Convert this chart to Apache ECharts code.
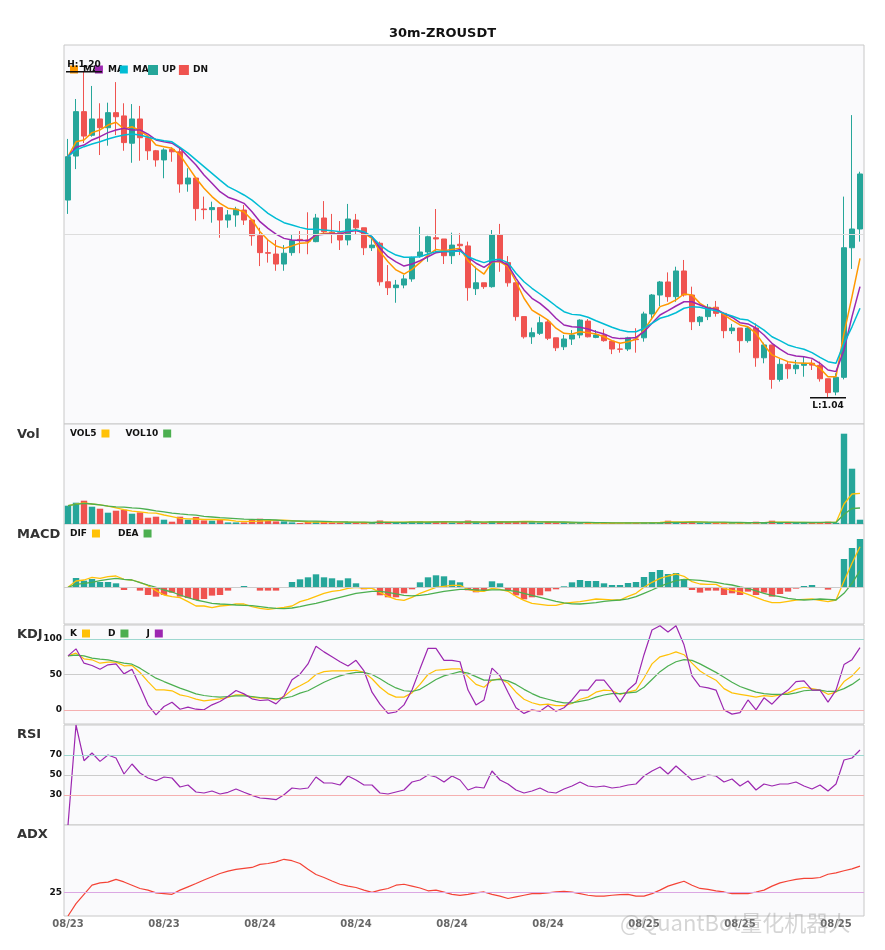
<!DOCTYPE html>
<html>
<head>
<meta charset="utf-8">
<title>30m-ZROUSDT</title>
<script src="https://cdn.jsdelivr.net/npm/echarts@6/dist/echarts.min.js"></script>
<style>
  html, body { margin: 0; padding: 0; background: #fff; }
  #main { width: 885px; height: 950px; }
</style>
</head>
<body>
<div id="main"></div>
<script>
// 30分钟K线，100根，从 08/23 12:00 开始
function pad(n) { return (n < 10 ? '0' : '') + n; }
var times = [];
var t0 = new Date(2024, 7, 23, 12, 0);
for (var n = 0; n < 100; n++) {
    var d = new Date(t0.getTime() + n * 30 * 60000);
    times.push(pad(d.getMonth() + 1) + '/' + pad(d.getDate()) + ' ' + pad(d.getHours()) + ':' + pad(d.getMinutes()));
}

// K线数据
var open = [
    1.1370, 1.1586, 1.1804, 1.1688, 1.1768, 1.1725, 1.1799, 1.1783, 1.1649, 1.1768,
    1.1676, 1.1612, 1.1567, 1.1619, 1.1607, 1.1449, 1.1478, 1.1326, 1.1323, 1.1333,
    1.1272, 1.1297, 1.1321, 1.1272, 1.1195, 1.1112, 1.1105, 1.1056, 1.1112, 1.1177,
    1.1174, 1.1166, 1.1282, 1.1213, 1.1210, 1.1174, 1.1272, 1.1234, 1.1136, 1.1158,
    1.0969, 1.0940, 1.0953, 1.0983, 1.1095, 1.1115, 1.1185, 1.1179, 1.1097, 1.1153,
    1.1145, 1.0935, 1.0964, 1.0945, 1.1199, 1.1063, 1.0964, 1.0798, 1.0699, 1.0716,
    1.0772, 1.0694, 1.0650, 1.0688, 1.0708, 1.0776, 1.0696, 1.0708, 1.0678, 1.0639,
    1.0639, 1.0688, 1.0694, 1.0811, 1.0904, 1.0968, 1.0896, 1.1022, 1.0904, 1.0773,
    1.0798, 1.0844, 1.0814, 1.0729, 1.0742, 1.0680, 1.0742, 1.0596, 1.0659, 1.0490,
    1.0564, 1.0542, 1.0559, 1.0569, 1.0559, 1.0493, 1.0428, 1.0500, 1.1136, 1.1228
];
var close = [
    1.1583, 1.1804, 1.1684, 1.1768, 1.1725, 1.1799, 1.1779, 1.1652, 1.1768, 1.1676,
    1.1612, 1.1567, 1.1616, 1.1607, 1.1449, 1.1478, 1.1328, 1.1323, 1.1333, 1.1272,
    1.1297, 1.1325, 1.1272, 1.1195, 1.1112, 1.1109, 1.1056, 1.1109, 1.1171, 1.1174,
    1.1168, 1.1282, 1.1215, 1.1208, 1.1174, 1.1277, 1.1234, 1.1136, 1.1149, 1.0969,
    1.0940, 1.0953, 1.0983, 1.1089, 1.1115, 1.1190, 1.1179, 1.1097, 1.1149, 1.1146,
    1.0940, 1.0964, 1.0945, 1.1199, 1.1067, 1.0964, 1.0798, 1.0699, 1.0719, 1.0768,
    1.0692, 1.0645, 1.0688, 1.0708, 1.0781, 1.0699, 1.0708, 1.0680, 1.0639, 1.0638,
    1.0694, 1.0685, 1.0811, 1.0904, 1.0968, 1.0896, 1.1022, 1.0904, 1.0773, 1.0796,
    1.0844, 1.0814, 1.0729, 1.0742, 1.0680, 1.0742, 1.0596, 1.0659, 1.0490, 1.0564,
    1.0542, 1.0560, 1.0569, 1.0560, 1.0493, 1.0425, 1.0500, 1.1136, 1.1228, 1.1498
];
var low = [
    1.1302, 1.1522, 1.1650, 1.1681, 1.1591, 1.1637, 1.1689, 1.1612, 1.1553, 1.1563,
    1.1567, 1.1534, 1.1477, 1.1558, 1.1406, 1.1411, 1.1269, 1.1276, 1.1259, 1.1185,
    1.1234, 1.1239, 1.1248, 1.1146, 1.1046, 1.1063, 1.1023, 1.1023, 1.1097, 1.1109,
    1.1104, 1.1163, 1.1203, 1.1158, 1.1125, 1.1148, 1.1199, 1.1100, 1.1120, 1.0950,
    1.0904, 1.0866, 1.0937, 1.0969, 1.1087, 1.1067, 1.1109, 1.1056, 1.1056, 1.1100,
    1.0876, 1.0904, 1.0934, 1.0940, 1.1018, 1.0945, 1.0778, 1.0690, 1.0664, 1.0708,
    1.0683, 1.0629, 1.0634, 1.0659, 1.0692, 1.0696, 1.0692, 1.0675, 1.0614, 1.0621,
    1.0629, 1.0621, 1.0675, 1.0781, 1.0850, 1.0871, 1.0871, 1.0896, 1.0732, 1.0752,
    1.0781, 1.0798, 1.0692, 1.0713, 1.0621, 1.0670, 1.0552, 1.0569, 1.0444, 1.0479,
    1.0493, 1.0516, 1.0503, 1.0536, 1.0479, 1.0400, 1.0412, 1.0490, 1.1032, 1.1166
];
var high = [
    1.1670, 1.1866, 1.2000, 1.1930, 1.1845, 1.1848, 1.1949, 1.1845, 1.1841, 1.1832,
    1.1689, 1.1616, 1.1624, 1.1629, 1.1629, 1.1526, 1.1482, 1.1387, 1.1362, 1.1333,
    1.1321, 1.1337, 1.1346, 1.1272, 1.1234, 1.1174, 1.1174, 1.1149, 1.1199, 1.1218,
    1.1310, 1.1302, 1.1365, 1.1302, 1.1267, 1.1351, 1.1302, 1.1234, 1.1190, 1.1166,
    1.1051, 1.0978, 1.1002, 1.1092, 1.1239, 1.1195, 1.1326, 1.1179, 1.1210, 1.1207,
    1.1166, 1.1043, 1.0964, 1.1223, 1.1253, 1.1095, 1.0964, 1.0798, 1.0744, 1.0798,
    1.0781, 1.0694, 1.0708, 1.0732, 1.0785, 1.0786, 1.0732, 1.0736, 1.0678, 1.0670,
    1.0699, 1.0741, 1.0822, 1.0909, 1.0973, 1.1015, 1.1043, 1.1076, 1.0945, 1.0801,
    1.0860, 1.0875, 1.0814, 1.0762, 1.0742, 1.0752, 1.0765, 1.0670, 1.0659, 1.0590,
    1.0577, 1.0585, 1.0601, 1.0588, 1.0577, 1.0493, 1.0520, 1.1387, 1.1787, 1.1509
];

// 均线
var ma5 = [
    1.1583, 1.1656, 1.1665, 1.1701, 1.1714, 1.1738, 1.1752, 1.1719, 1.1730, 1.1710,
    1.1684, 1.1640, 1.1632, 1.1624, 1.1591, 1.1534, 1.1477, 1.1428, 1.1387, 1.1354,
    1.1330, 1.1325, 1.1313, 1.1272, 1.1215, 1.1174, 1.1145, 1.1133, 1.1145, 1.1158,
    1.1161, 1.1199, 1.1207, 1.1207, 1.1202, 1.1215, 1.1223, 1.1207, 1.1182, 1.1117,
    1.1067, 1.1027, 1.1007, 1.1030, 1.1063, 1.1100, 1.1128, 1.1121, 1.1128, 1.1133,
    1.1072, 1.1035, 1.1007, 1.1067, 1.1067, 1.1043, 1.0969, 1.0888, 1.0830, 1.0806,
    1.0781, 1.0741, 1.0716, 1.0713, 1.0724, 1.0719, 1.0713, 1.0699, 1.0680, 1.0667,
    1.0675, 1.0687, 1.0732, 1.0790, 1.0847, 1.0860, 1.0880, 1.0909, 1.0904, 1.0863,
    1.0839, 1.0839, 1.0806, 1.0781, 1.0757, 1.0748, 1.0716, 1.0659, 1.0610, 1.0593,
    1.0577, 1.0572, 1.0569, 1.0569, 1.0544, 1.0503, 1.0503, 1.0716, 1.0896, 1.1084
];
var ma10 = [
    1.1583, 1.1629, 1.1640, 1.1665, 1.1681, 1.1701, 1.1714, 1.1722, 1.1714, 1.1714,
    1.1694, 1.1665, 1.1656, 1.1649, 1.1624, 1.1583, 1.1542, 1.1493, 1.1452, 1.1411,
    1.1384, 1.1370, 1.1354, 1.1313, 1.1264, 1.1231, 1.1203, 1.1182, 1.1174, 1.1171,
    1.1171, 1.1199, 1.1202, 1.1203, 1.1203, 1.1215, 1.1220, 1.1210, 1.1190, 1.1133,
    1.1092, 1.1067, 1.1046, 1.1056, 1.1072, 1.1092, 1.1112, 1.1117, 1.1117, 1.1128,
    1.1089, 1.1060, 1.1040, 1.1067, 1.1072, 1.1051, 1.0986, 1.0929, 1.0888, 1.0863,
    1.0830, 1.0790, 1.0757, 1.0748, 1.0746, 1.0737, 1.0724, 1.0713, 1.0696, 1.0690,
    1.0692, 1.0696, 1.0724, 1.0765, 1.0806, 1.0827, 1.0850, 1.0871, 1.0871, 1.0855,
    1.0839, 1.0834, 1.0814, 1.0795, 1.0768, 1.0762, 1.0741, 1.0708, 1.0667, 1.0638,
    1.0614, 1.0605, 1.0601, 1.0593, 1.0569, 1.0536, 1.0528, 1.0634, 1.0798, 1.0945
];
var ma20 = [
    1.1583, 1.1616, 1.1632, 1.1645, 1.1656, 1.1670, 1.1681, 1.1689, 1.1694, 1.1689,
    1.1678, 1.1668, 1.1661, 1.1656, 1.1629, 1.1600, 1.1567, 1.1534, 1.1501, 1.1468,
    1.1436, 1.1416, 1.1395, 1.1370, 1.1337, 1.1305, 1.1280, 1.1259, 1.1248, 1.1236,
    1.1227, 1.1227, 1.1223, 1.1220, 1.1215, 1.1220, 1.1223, 1.1215, 1.1190, 1.1149,
    1.1121, 1.1100, 1.1089, 1.1089, 1.1092, 1.1105, 1.1117, 1.1117, 1.1117, 1.1120,
    1.1092, 1.1076, 1.1063, 1.1076, 1.1079, 1.1063, 1.1011, 1.0969, 1.0937, 1.0909,
    1.0880, 1.0850, 1.0822, 1.0809, 1.0806, 1.0795, 1.0778, 1.0762, 1.0746, 1.0732,
    1.0724, 1.0724, 1.0741, 1.0765, 1.0790, 1.0801, 1.0817, 1.0839, 1.0847, 1.0844,
    1.0834, 1.0827, 1.0814, 1.0801, 1.0786, 1.0781, 1.0757, 1.0732, 1.0699, 1.0680,
    1.0659, 1.0647, 1.0638, 1.0621, 1.0598, 1.0577, 1.0569, 1.0667, 1.0748, 1.0839
];

// 成交量
var vol = [
    183, 213, 233, 173, 153, 113, 133, 143, 103, 116,
    63, 73, 43, 23, 73, 43, 70, 36, 33, 43,
    16, 16, 16, 43, 53, 46, 26, 26, 16, 10,
    20, 25, 22, 15, 14, 18, 12, 15, 12, 35,
    22, 15, 12, 25, 28, 20, 18, 22, 15, 12,
    35, 18, 10, 30, 25, 18, 30, 22, 18, 15,
    20, 15, 12, 10, 12, 10, 8, 10, 12, 8,
    14, 10, 15, 18, 20, 33, 20, 18, 22, 10,
    10, 12, 15, 10, 12, 10, 23, 12, 33, 15,
    10, 10, 12, 20, 15, 23, 12, 903, 553, 43
];
var vol5 = [
    183, 198, 210, 200, 191, 178, 161, 143, 129, 122,
    112, 108, 90, 73, 56, 51, 50, 45, 45, 45,
    40, 29, 25, 27, 29, 35, 37, 39, 34, 26,
    20, 19, 19, 18, 19, 19, 16, 15, 14, 18,
    19, 19, 19, 22, 20, 20, 21, 23, 21, 17,
    20, 20, 18, 21, 24, 20, 23, 25, 25, 21,
    21, 18, 16, 14, 14, 12, 10, 10, 10, 10,
    10, 11, 12, 13, 15, 20, 21, 22, 23, 21,
    16, 14, 14, 12, 12, 12, 14, 13, 18, 19,
    19, 16, 16, 13, 13, 16, 16, 200, 300, 307
];
var vol10 = [
    183, 196, 206, 200, 191, 178, 172, 168, 161, 156,
    145, 131, 122, 109, 101, 94, 88, 77, 70, 63,
    58, 53, 48, 46, 44, 44, 40, 33, 30, 30,
    28, 28, 27, 24, 22, 20, 19, 18, 17, 18,
    17, 17, 17, 19, 19, 19, 20, 21, 21, 20,
    21, 20, 19, 20, 20, 20, 22, 22, 21, 21,
    20, 20, 20, 19, 17, 16, 14, 13, 12, 11,
    11, 11, 11, 12, 12, 15, 16, 17, 18, 18,
    18, 18, 18, 17, 15, 13, 14, 13, 16, 16,
    16, 15, 15, 15, 16, 17, 15, 98, 155, 160
];

// MACD
var dif = [
    0, 0.00101, 0.00117, 0.0016, 0.00144, 0.00171, 0.00181, 0.00128, 0.00117, 0.0008,
    0.00027, -0.00053, -0.00123, -0.00149, -0.00165, -0.00229, -0.00299, -0.00299, -0.00325, -0.00299,
    -0.00288, -0.00267, -0.00267, -0.00309, -0.00336, -0.00352, -0.00336, -0.0032, -0.00299, -0.00229,
    -0.00192, -0.00144, -0.00096, -0.00064, -0.00048, -0.00016, 0, -0.00016, -0.00016, -0.0008,
    -0.00144, -0.00192, -0.00208, -0.0016, -0.00096, -0.00048, 0, 0.00016, 0.00032, 0.00032,
    -0.00032, -0.00064, -0.00064, -0.00016, -0.00032, -0.00064, -0.00144, -0.00208, -0.00256, -0.00272,
    -0.00288, -0.00288, -0.00256, -0.0024, -0.00229, -0.00208, -0.00187, -0.00192, -0.00203, -0.00203,
    -0.00144, -0.00096, 0, 0.0008, 0.00144, 0.00181, 0.00213, 0.00176, 0.00091, 0.00053,
    0.00048, 0.00048, -0.00016, -0.00048, -0.00069, -0.00112, -0.0016, -0.00208, -0.00245, -0.00245,
    -0.00224, -0.00203, -0.00192, -0.00187, -0.00208, -0.00229, -0.00203, 0.00101, 0.00384, 0.0065
];
var dea = [
    0, 0.00048, 0.00064, 0.0008, 0.00107, 0.00128, 0.00144, 0.00128, 0.00117, 0.00075,
    0.00037, 0, -0.00043, -0.00075, -0.00123, -0.00165, -0.00203, -0.00229, -0.00256, -0.00267,
    -0.00272, -0.00283, -0.00288, -0.00293, -0.00309, -0.00325, -0.00336, -0.00341, -0.00331, -0.00309,
    -0.0028, -0.00256, -0.00224, -0.00192, -0.0016, -0.00128, -0.00096, -0.0008, -0.00064, -0.00064,
    -0.0008, -0.00104, -0.00128, -0.00136, -0.00128, -0.00112, -0.00088, -0.00064, -0.00048, -0.00032,
    -0.00032, -0.0004, -0.00048, -0.0004, -0.0004, -0.00048, -0.00064, -0.00096, -0.00128, -0.0016,
    -0.00192, -0.00224, -0.00248, -0.00264, -0.00267, -0.00256, -0.00245, -0.00224, -0.00213, -0.00203,
    -0.00184, -0.00149, -0.00096, -0.00043, 0.00016, 0.00064, 0.00107, 0.00128, 0.0012, 0.00112,
    0.00096, 0.0008, 0.00056, 0.00037, 0.00008, -0.00016, -0.00056, -0.00096, -0.00128, -0.00149,
    -0.00176, -0.00192, -0.00203, -0.00197, -0.00187, -0.00192, -0.00203, -0.00096, 0.00064, 0.00266
];
var macdHist = [
    0, 0.00149, 0.00107, 0.00133, 0.00085, 0.00085, 0.00064, -0.00043, -0.00011, -0.00053,
    -0.00123, -0.00149, -0.00123, -0.00085, -0.00149, -0.00171, -0.00203, -0.00187, -0.00133, -0.00123,
    -0.00053, -0.00003, 0.00021, -0.00011, -0.00053, -0.00053, -0.00053, 0.00005, 0.00085, 0.00128,
    0.0016, 0.00208, 0.0016, 0.00144, 0.00112, 0.00144, 0.00064, -0.00032, -0.00016, -0.00128,
    -0.0016, -0.0016, -0.00096, -0.00032, 0.0008, 0.0016, 0.00192, 0.00176, 0.00112, 0.0008,
    -0.00048, -0.0008, -0.00048, 0.00096, 0.00064, -0.00048, -0.00128, -0.00192, -0.0016, -0.00128,
    -0.00064, -0.00032, 0.00016, 0.0008, 0.00117, 0.00101, 0.00101, 0.00064, 0.00037, 0.00037,
    0.00069, 0.00085, 0.00165, 0.00245, 0.00277, 0.00213, 0.00229, 0.00133, -0.00043, -0.00085,
    -0.00053, -0.00053, -0.00123, -0.00096, -0.00123, -0.00069, -0.00123, -0.00085, -0.00149, -0.00107,
    -0.00069, -0.00021, 0.00021, 0.00037, 0.00003, -0.00037, -0.00003, 0.00453, 0.00629, 0.00773
];

// KDJ
var kLine = [
    76.4, 80.2, 72.2, 70.8, 66, 67.5, 67.5, 62.3, 62.7, 52.8,
    40, 28.3, 28.3, 26.9, 21.2, 18.9, 15.1, 12.7, 14.2, 15.6,
    17.5, 21.2, 21.2, 17.9, 16.5, 16.5, 14.2, 18.9, 28.3, 34,
    40, 50, 54, 55, 55, 55, 56, 53, 44, 32,
    23, 18, 18, 24, 36, 50, 56, 57, 58, 58,
    47, 36, 32, 42, 44, 38, 25, 15, 10, 7,
    8, 6, 6, 9, 15, 18, 25, 28, 27, 22,
    25, 28, 45, 65, 75, 78, 82, 78, 66, 55,
    48, 42, 30, 24, 22, 20, 18, 20, 19, 21,
    24, 29, 32, 30, 28, 22, 25, 40, 48, 60
];
var dLine = [
    76.4, 77.4, 76.4, 73.1, 71.7, 70.8, 68.4, 66, 64.6, 59,
    51.9, 44.8, 40, 35.4, 30.7, 26.9, 22.6, 20.3, 18.9, 17.9,
    18.9, 19.8, 19.8, 18.9, 17.5, 16.5, 15.6, 16.5, 18.9, 23.6,
    27, 33, 39, 44, 48, 51, 53, 53, 50, 44,
    37, 31, 27, 26, 29, 36, 43, 48, 51, 54,
    52, 47, 42, 42, 43, 41, 36, 29, 23, 18,
    15, 12, 10, 10, 12, 14, 18, 21, 23, 23,
    24, 25, 32, 43, 54, 62, 68, 71, 70, 65,
    59, 53, 46, 39, 33, 29, 25, 23, 22, 22,
    22, 24, 27, 28, 28, 26, 26, 30, 36, 44
];
var jLine = [
    76.4, 86.3, 66, 62.7, 57.5, 63.7, 65.1, 50.9, 57.5, 33,
    7.1, -7.1, 4.7, 10.8, 0.9, 3.8, 0.9, 0, 7.1, 11.8,
    18.9, 27.4, 22.6, 15.6, 13.2, 14.2, 8.5, 19.8, 42.5, 50.5,
    65, 90, 82, 75, 68, 62, 70, 55, 25, 8,
    -5, -3, 7, 28, 58, 87, 87, 70, 70, 68,
    28, 7, 14, 59, 48, 25, 3, -5, 0, -2,
    6, -2, 3, 14, 28, 28, 42, 42, 28, 11,
    28, 38, 78, 113, 119, 110, 119, 92, 48, 33,
    31, 28, 0, -6, -4, 14, 0, 17, 8, 20,
    28, 40, 41, 28, 28, 11, 28, 64, 71, 88
];

// RSI
var rsi = [
    0, 100, 64.3, 72, 63.6, 70, 67, 51, 61, 52,
    47, 44.3, 48, 47, 38, 40, 33, 32, 34, 31,
    32.7, 36, 32.7, 29.6, 27, 26.3, 25.3, 30.3, 37, 36,
    37, 48, 42, 42, 40, 49, 45, 40, 40, 32,
    31, 33, 35, 43, 45, 50, 48, 43, 49, 45,
    35, 38, 37, 54, 45, 41, 35, 32, 34, 37,
    33, 32, 36, 39, 43, 39, 38, 39, 37, 38,
    40, 41, 49, 54, 58, 51, 59, 52, 45, 47,
    50, 49, 43, 46, 39, 44, 35, 41, 39, 41,
    41, 43, 39, 36, 40, 34, 41, 65, 67, 75
];

// ADX
var adx = [
    15, 20.3, 24.3, 28.2, 29.2, 29.5, 30.7, 29.6, 28.2, 26.8,
    26.1, 24.9, 24.6, 24.3, 26.1, 27.5, 28.9, 30.4, 31.8, 33.2,
    34.2, 35, 35.4, 35.8, 37.1, 37.5, 38.2, 39.3, 38.7, 37.5,
    35, 32.8, 31.5, 30, 28.6, 27.8, 27.2, 26.1, 25.1, 26.1,
    26.8, 28.2, 28.6, 27.8, 27, 25.8, 26.1, 25.2, 24.3, 23.8,
    24.3, 24.9, 25.3, 24.3, 23.5, 22.5, 23.2, 23.9, 24.6, 24.6,
    24.9, 25.3, 25.6, 25.2, 24.6, 23.9, 23.5, 23.5, 23.9, 24.2,
    24.3, 23.5, 23.5, 24.6, 26.1, 27.8, 28.9, 29.9, 28.2, 26.8,
    26.4, 25.8, 25.3, 24.6, 24.6, 24.6, 25.3, 26.1, 27.8, 29.2,
    30, 30.7, 31.1, 31.1, 31.5, 32.9, 33.5, 34.4, 35.2, 36.4
];

var UP = '#26a69a', DN = '#ef5350';
var C_MA5 = '#ff9800', C_MA10 = '#9c27b0', C_MA20 = '#00bcd4';
var C_YEL = '#ffc107', C_GRN = '#4caf50', C_PUR = '#9c27b0', C_RED = '#f44336';

// 涨跌分开两组K线
var upData = [], dnData = [];
for (var i = 0; i < open.length; i++) {
    var item = [open[i], close[i], low[i], high[i]];
    if (close[i] >= open[i]) { upData.push(item); dnData.push('-'); }
    else { upData.push('-'); dnData.push(item); }
}
var volData = vol.map(function (v, i) {
    return { value: v, itemStyle: { color: close[i] >= open[i] ? UP : DN } };
});
var histData = macdHist.map(function (v) {
    return { value: v, itemStyle: { color: v >= 0 ? UP : DN } };
});

// 最高最低点
var hiIdx = 0, loIdx = 0;
for (var i = 1; i < high.length; i++) {
    if (high[i] > high[hiIdx]) hiIdx = i;
    if (low[i] < low[loIdx]) loIdx = i;
}

var font = 'DejaVu Sans';
var tops = [45, 424, 524, 625, 725, 825];
var heights = [379, 100, 100, 99, 100, 91];

var grids = [], xAxes = [], yAxes = [];
for (var k = 0; k < 6; k++) {
    grids.push({
        left: 64, right: 21, top: tops[k], height: heights[k],
        show: true, backgroundColor: '#fafafc', borderColor: '#c8c8c8', borderWidth: 1
    });
    xAxes.push({
        type: 'category', gridIndex: k, data: times, boundaryGap: true,
        axisLine: { show: false }, axisTick: { show: false }, splitLine: { show: false },
        axisLabel: {
            show: k === 5, interval: 11, margin: 3,
            color: '#666', fontWeight: 'bold', fontSize: 10, fontFamily: font,
            formatter: function (v) { return v.slice(0, 5); }
        }
    });
}

function pick(list) {
    return function (v) {
        for (var q = 0; q < list.length; q++) {
            if (Math.abs(v - list[q]) < 1e-6) return String(list[q]);
        }
        return '';
    };
}
var yLabel = { color: '#111', fontWeight: 'bold', fontSize: 9, fontFamily: font, margin: 2 };
function hideY(idx, min, max) {
    return {
        type: 'value', gridIndex: idx, min: min, max: max,
        axisLabel: { show: false }, axisLine: { show: false },
        axisTick: { show: false }, splitLine: { show: false }
    };
}
yAxes.push(hideY(0, 1.0271, 1.2131));
yAxes.push(hideY(1, 0, 1000));
yAxes.push(hideY(2, -0.00587, 0.01013));
yAxes.push({
    type: 'value', gridIndex: 3, min: -20, max: 120, interval: 10,
    axisLine: { show: false }, axisTick: { show: false }, splitLine: { show: false },
    axisLabel: Object.assign({ formatter: pick([0, 50, 100]) }, yLabel)
});
yAxes.push({
    type: 'value', gridIndex: 4, min: 0, max: 100, interval: 10,
    axisLine: { show: false }, axisTick: { show: false }, splitLine: { show: false },
    axisLabel: Object.assign({ formatter: pick([30, 50, 70]) }, yLabel)
});
yAxes.push({
    type: 'value', gridIndex: 5, min: 15, max: 54, interval: 1,
    axisLine: { show: false }, axisTick: { show: false }, splitLine: { show: false },
    axisLabel: Object.assign({ formatter: pick([25]) }, yLabel)
});

function hLines(list) {
    return {
        silent: true, symbol: 'none', label: { show: false }, animation: false,
        data: list.map(function (p) {
            return { yAxis: p[0], lineStyle: { color: p[1], width: 1, type: 'solid' } };
        })
    };
}
function line(name, data, color, xi, width) {
    return {
        name: name, type: 'line', data: data, xAxisIndex: xi, yAxisIndex: xi,
        symbol: 'none', smooth: false,
        lineStyle: { color: color, width: width || 1.3 }, itemStyle: { color: color }
    };
}

var markText = { show: true, color: '#111', fontWeight: 'bold', fontSize: 9, fontFamily: font };

var series = [
    {
        name: 'UP', type: 'candlestick', data: upData, xAxisIndex: 0, yAxisIndex: 0, barWidth: 6,
        itemStyle: { color: UP, color0: UP, borderColor: UP, borderColor0: UP, borderWidth: 1 },
        markPoint: {
            silent: true, animation: false,
            data: [
                {
                    coord: [times[hiIdx], high[hiIdx]], symbol: 'rect', symbolSize: [36, 1.5],
                    itemStyle: { color: '#111' },
                    label: Object.assign({ position: 'top', distance: 2, formatter: 'H:' + high[hiIdx].toFixed(2) }, markText)
                },
                {
                    coord: [times[loIdx], low[loIdx]], symbol: 'rect', symbolSize: [36, 1.5],
                    itemStyle: { color: '#111' },
                    label: Object.assign({ position: 'bottom', distance: 3, formatter: 'L:' + low[loIdx].toFixed(2) }, markText)
                }
            ]
        }
    },
    {
        name: 'DN', type: 'candlestick', data: dnData, xAxisIndex: 0, yAxisIndex: 0, barWidth: 6,
        itemStyle: { color: DN, color0: DN, borderColor: DN, borderColor0: DN, borderWidth: 1 }
    },
    line('MA5', ma5, C_MA5, 0, 1.5),
    line('MA10', ma10, C_MA10, 0, 1.5),
    Object.assign(line('MA20', ma20, C_MA20, 0, 1.5), { markLine: hLines([[1.12, '#dddddd']]) }),

    { name: 'VOL', type: 'bar', data: volData, xAxisIndex: 1, yAxisIndex: 1, barWidth: '80%' },
    line('VOL5', vol5, C_YEL, 1, 1.3),
    line('VOL10', vol10, C_GRN, 1, 1.3),

    {
        name: 'MACD', type: 'bar', data: histData, xAxisIndex: 2, yAxisIndex: 2, barWidth: '80%',
        markLine: hLines([[0, '#cccccc']])
    },
    line('DIF', dif, C_YEL, 2, 1.3),
    line('DEA', dea, C_GRN, 2, 1.3),

    Object.assign(line('K', kLine, C_YEL, 3, 1.2),
        { markLine: hLines([[100, '#9fd8d0'], [50, '#cccccc'], [0, '#f5b0b0']]) }),
    line('D', dLine, C_GRN, 3, 1.2),
    line('J', jLine, C_PUR, 3, 1.2),

    Object.assign(line('RSI', rsi, C_PUR, 4, 1.2),
        { markLine: hLines([[70, '#9fd8d0'], [50, '#cccccc'], [30, '#f5b0b0']]) }),

    Object.assign(line('ADX', adx, C_RED, 5, 1.2),
        { markLine: hLines([[25, '#dba8e3']]) })
];

var legendText = { fontSize: 9, fontWeight: 'bold', color: '#111', fontFamily: font };
function legend(opt) {
    return Object.assign({
        icon: 'rect', itemWidth: 8, itemHeight: 8, padding: 0, selectedMode: false,
        textStyle: legendText
    }, opt);
}
// 固定宽度的图例文字
function fixedText(w) {
    return Object.assign({ rich: { a: Object.assign({ width: w }, legendText) } }, legendText);
}

var panelTitle = { fontSize: 13, fontWeight: 'bold', color: '#333', fontFamily: font };

var option = {
    animation: false,
    backgroundColor: '#ffffff',
    textStyle: { fontFamily: font },
    title: [
        { text: '30m-ZROUSDT', left: 'center', top: 27, padding: 0,
          textStyle: { fontSize: 13, fontWeight: 'bold', color: '#111', fontFamily: font } },
        { text: 'Vol', left: 17, top: 428, padding: 0, textStyle: panelTitle },
        { text: 'MACD', left: 17, top: 528, padding: 0, textStyle: panelTitle },
        { text: 'KDJ', left: 17, top: 628, padding: 0, textStyle: panelTitle },
        { text: 'RSI', left: 17, top: 728, padding: 0, textStyle: panelTitle },
        { text: 'ADX', left: 17, top: 828, padding: 0, textStyle: panelTitle }
    ],
    legend: [
        // 均线图例文字被截成 "MA"
        legend({ data: ['MA5', 'MA10', 'MA20'], left: 70, top: 65, itemGap: -4,
            formatter: function (name) { return '{a|' + name.slice(0, 2) + '}'; },
            textStyle: fixedText(11) }),
        legend({ data: ['UP', 'DN'], left: 148, top: 65, itemGap: 3 }),
        legend({ data: ['VOL5', 'VOL10'], left: 70, top: 429, align: 'right', itemGap: 16 }),
        legend({ data: ['DIF', 'DEA'], left: 70, top: 529, align: 'right', itemGap: 18,
            formatter: '{a|{name}}', textStyle: fixedText(22) }),
        legend({ data: ['K', 'D', 'J'], left: 70, top: 629, align: 'right', itemGap: 18,
            formatter: '{a|{name}}', textStyle: fixedText(12) })
    ],
    grid: grids,
    xAxis: xAxes,
    yAxis: yAxes,
    series: series,
    graphic: [
        {
            type: 'text', left: 620, top: 912, silent: true, z: 100,
            style: {
                text: '@QuantBot量化机器人',
                fill: 'rgba(150,150,150,0.4)',
                font: '22px "Noto Sans CJK SC"'
            }
        }
    ]
};

var chart = echarts.init(document.getElementById('main'));
chart.setOption(option);
</script>
</body>
</html>
